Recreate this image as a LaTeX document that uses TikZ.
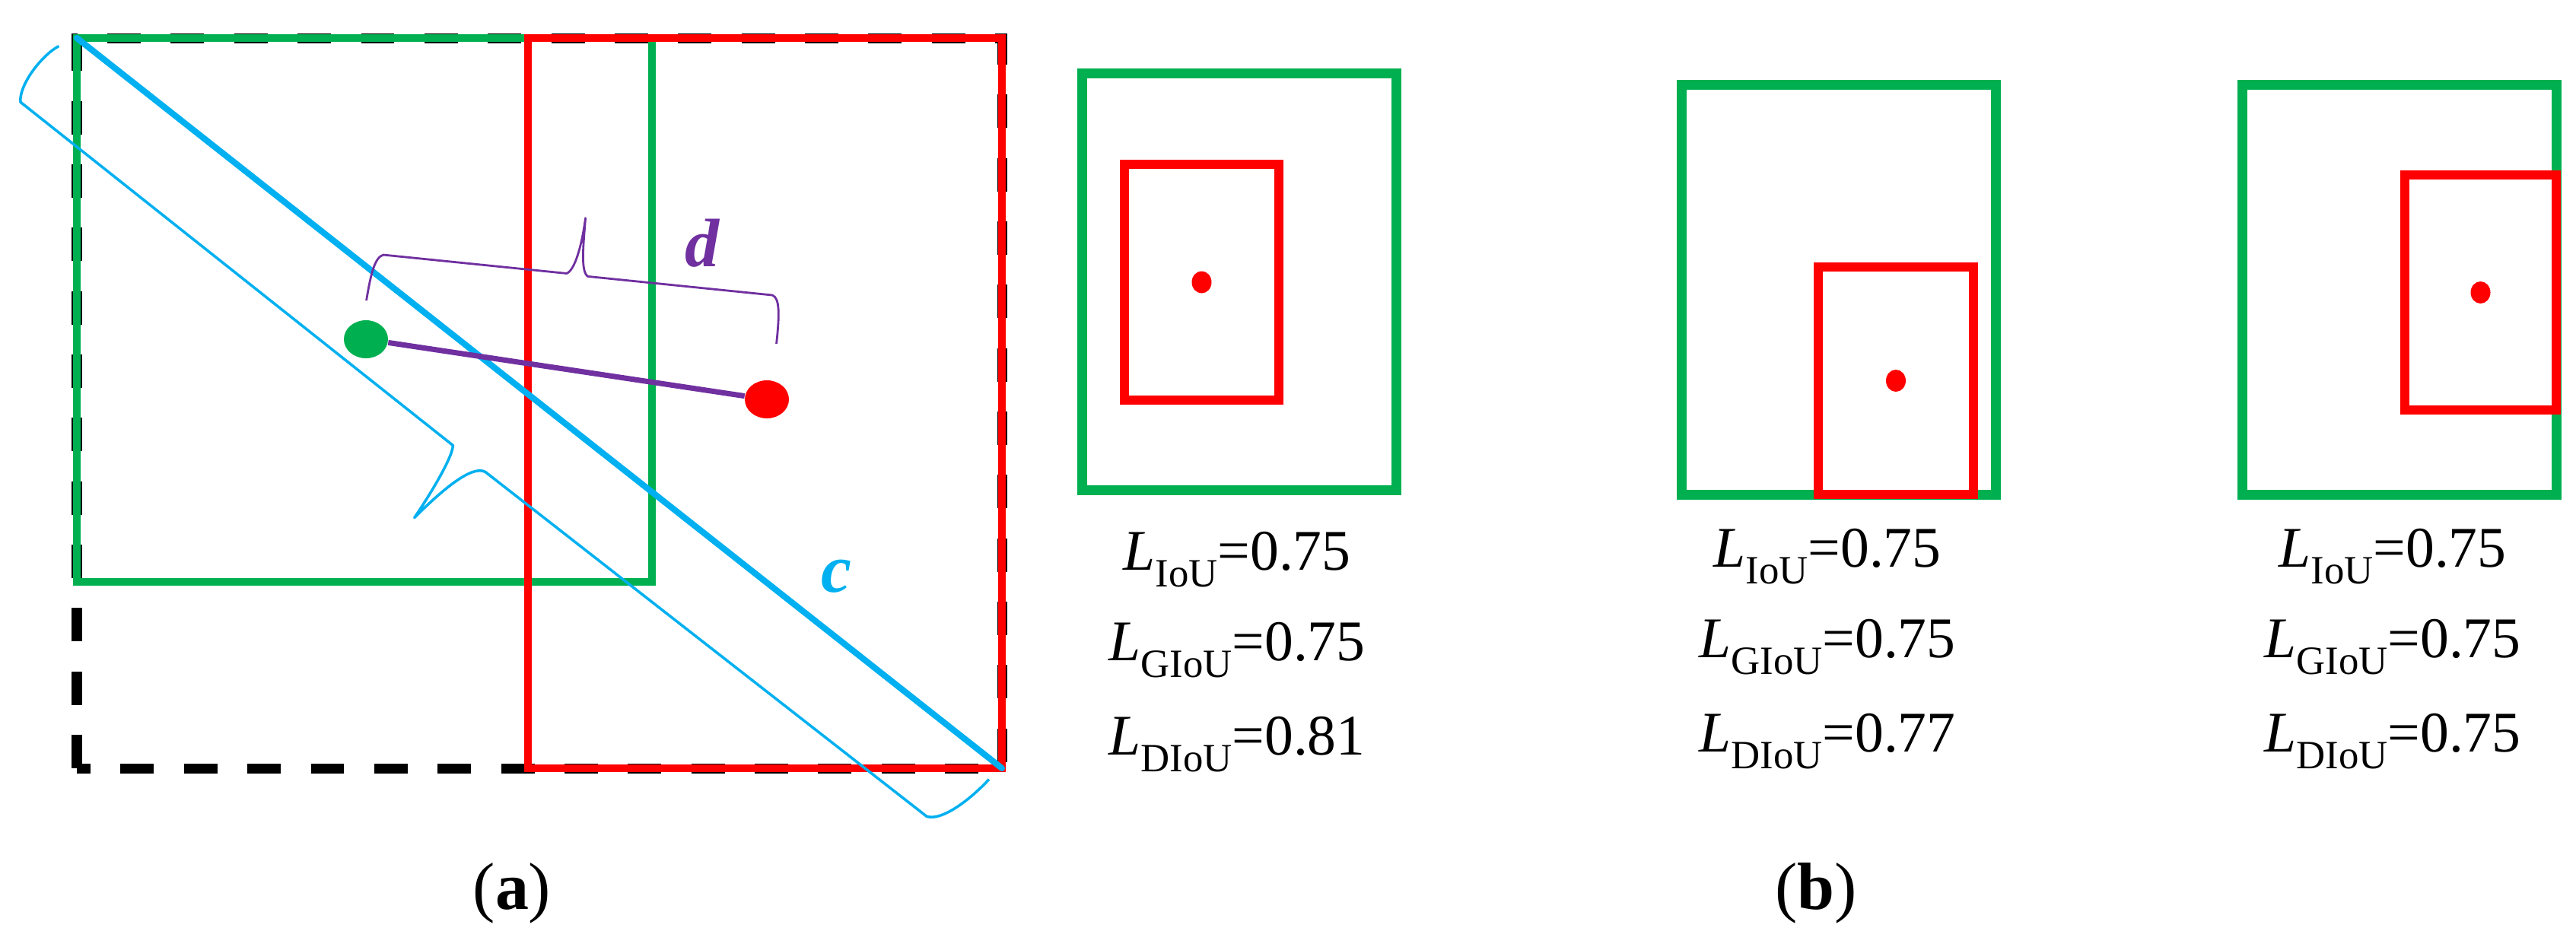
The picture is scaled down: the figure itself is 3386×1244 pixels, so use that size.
\documentclass[tikz,border=0pt]{standalone}
\usepackage{fontspec}
\setmainfont{Liberation Serif}
\usepackage{tikz}
\usetikzlibrary{
	positioning,
	calc,
	shapes.geometric
}

\definecolor{gtgreen}{RGB}{0,176,80}
\definecolor{predred}{RGB}{255,0,0}
\definecolor{diagblue}{RGB}{0,176,240}
\definecolor{distpurple}{RGB}{112,48,160}

\newcommand{\lossval}[2]{\textit{L}\raisebox{-0.3em}{\fontsize{15}{15}\selectfont #1}=#2}

\tikzset{
	hull/.style={draw=black,line width=3.7pt,dash pattern=on 12.5pt off 11.2pt},
	gtbox/.style={draw=gtgreen,line width=2.6pt},
	predbox/.style={draw=predred,line width=2.6pt},
	gtsmall/.style={draw=gtgreen,line width=3.7pt},
	predsmall/.style={draw=predred,line width=3.4pt},
	centre/.style={ellipse,fill=#1,inner sep=0pt,minimum width=5.8mm,minimum height=5mm},
	centredot/.style={ellipse,fill=predred,inner sep=0pt,minimum width=2.6mm,minimum height=2.9mm},
	lossline/.style={anchor=base,inner sep=0pt,font=\fontsize{21.5}{21.5}\selectfont},
	varname/.style={anchor=base,inner sep=0pt,font=\fontsize{25.6}{25.6}\selectfont\bfseries\itshape},
	panel/.style={anchor=base,inner sep=0pt,font=\fontsize{25}{25}\selectfont}
}

\begin{document}
\begin{tikzpicture}[x=0.01cm,y=-0.01cm]
	\useasboundingbox (0,0) rectangle (3386,1244);

	% (a)
	\coordinate (hullTL) at (101,50);
	\coordinate (hullBR) at (1317,1010);
	\draw[hull] (hullTL |- hullBR) rectangle (hullBR |- hullTL);
	\draw[gtbox] (hullTL) rectangle (857,765);
	\draw[predbox] (694,50) rectangle (hullBR);
	\draw[diagblue,line width=2.3pt,line cap=round] (hullTL) -- (hullBR);
	\begin{scope}[shift={(hullTL)},rotate=-38.29]
		\draw[diagblue,line width=1pt,line join=round]
			(-12,23) .. controls (-22,45) and (-22,95) .. (-6,112)
			-- (720,114) .. controls (730,128) and (737,190) .. (739,220)
			.. controls (745,170) and (755,118) .. (775,115)
			-- (1511,111) .. controls (1530,104) and (1542,60) .. (1545,22);
	\end{scope}
	\begin{scope}[shift={(481.6,395)},rotate=-6.03]
		\draw[distpurple,line width=0.8pt,line join=round]
			(0,0) .. controls (2,-35) and (5,-58) .. (16,-62)
			-- (258,-63) .. controls (268,-68) and (274,-100) .. (275,-138)
			.. controls (276,-100) and (276,-68) .. (286,-62)
			-- (530,-63) .. controls (540,-60) and (542,-40) .. (542,0);
	\end{scope}
	\node[centre=gtgreen] (gtc) at (481,446) {};
	\node[centre=predred] (pdc) at (1008,525) {};
	\draw[distpurple,line width=2pt] (gtc) -- (pdc);
	\node[varname,text=distpurple] (dlabel) at (923,350) {d};
	\node[varname,text=diagblue]   (clabel) at (1099,778) {c};
	\node[panel] (capa) at (673,1195) {(\textbf{a})};

	% (b)
	\foreach \gx/\gy/\gX/\gY/\rx/\ry/\rX/\rY/\tx/\ty/\dval [count=\i] in {
		1422/96/1835/644/1478/216/1681/526/1626/749/0.81,
		2210/111/2623/650/2390/351/2594/650/2402/745/0.77,
		2947/111/3360/650/3161/230/3360/539/3145/745/0.75}
	{
		\draw[gtsmall] (\gx,\gy) rectangle (\gX,\gY);
		\draw[predsmall] (\rx,\ry) rectangle (\rX,\rY);
		\node[centredot] (dot\i) at ($(\rx,\ry)!0.5!(\rX,\rY)$) {};
		\node[lossline] (iou\i)  at (\tx,\ty)     {\lossval{IoU}{0.75}};
		\node[lossline] (giou\i) at (\tx,\ty+119) {\lossval{GIoU}{0.75}};
		\node[lossline] (diou\i) at (\tx,\ty+243) {\lossval{DIoU}{\dval}};
	}
	\node[panel] (capb) at (2387,1195) {(\textbf{b})};
\end{tikzpicture}
\end{document}
